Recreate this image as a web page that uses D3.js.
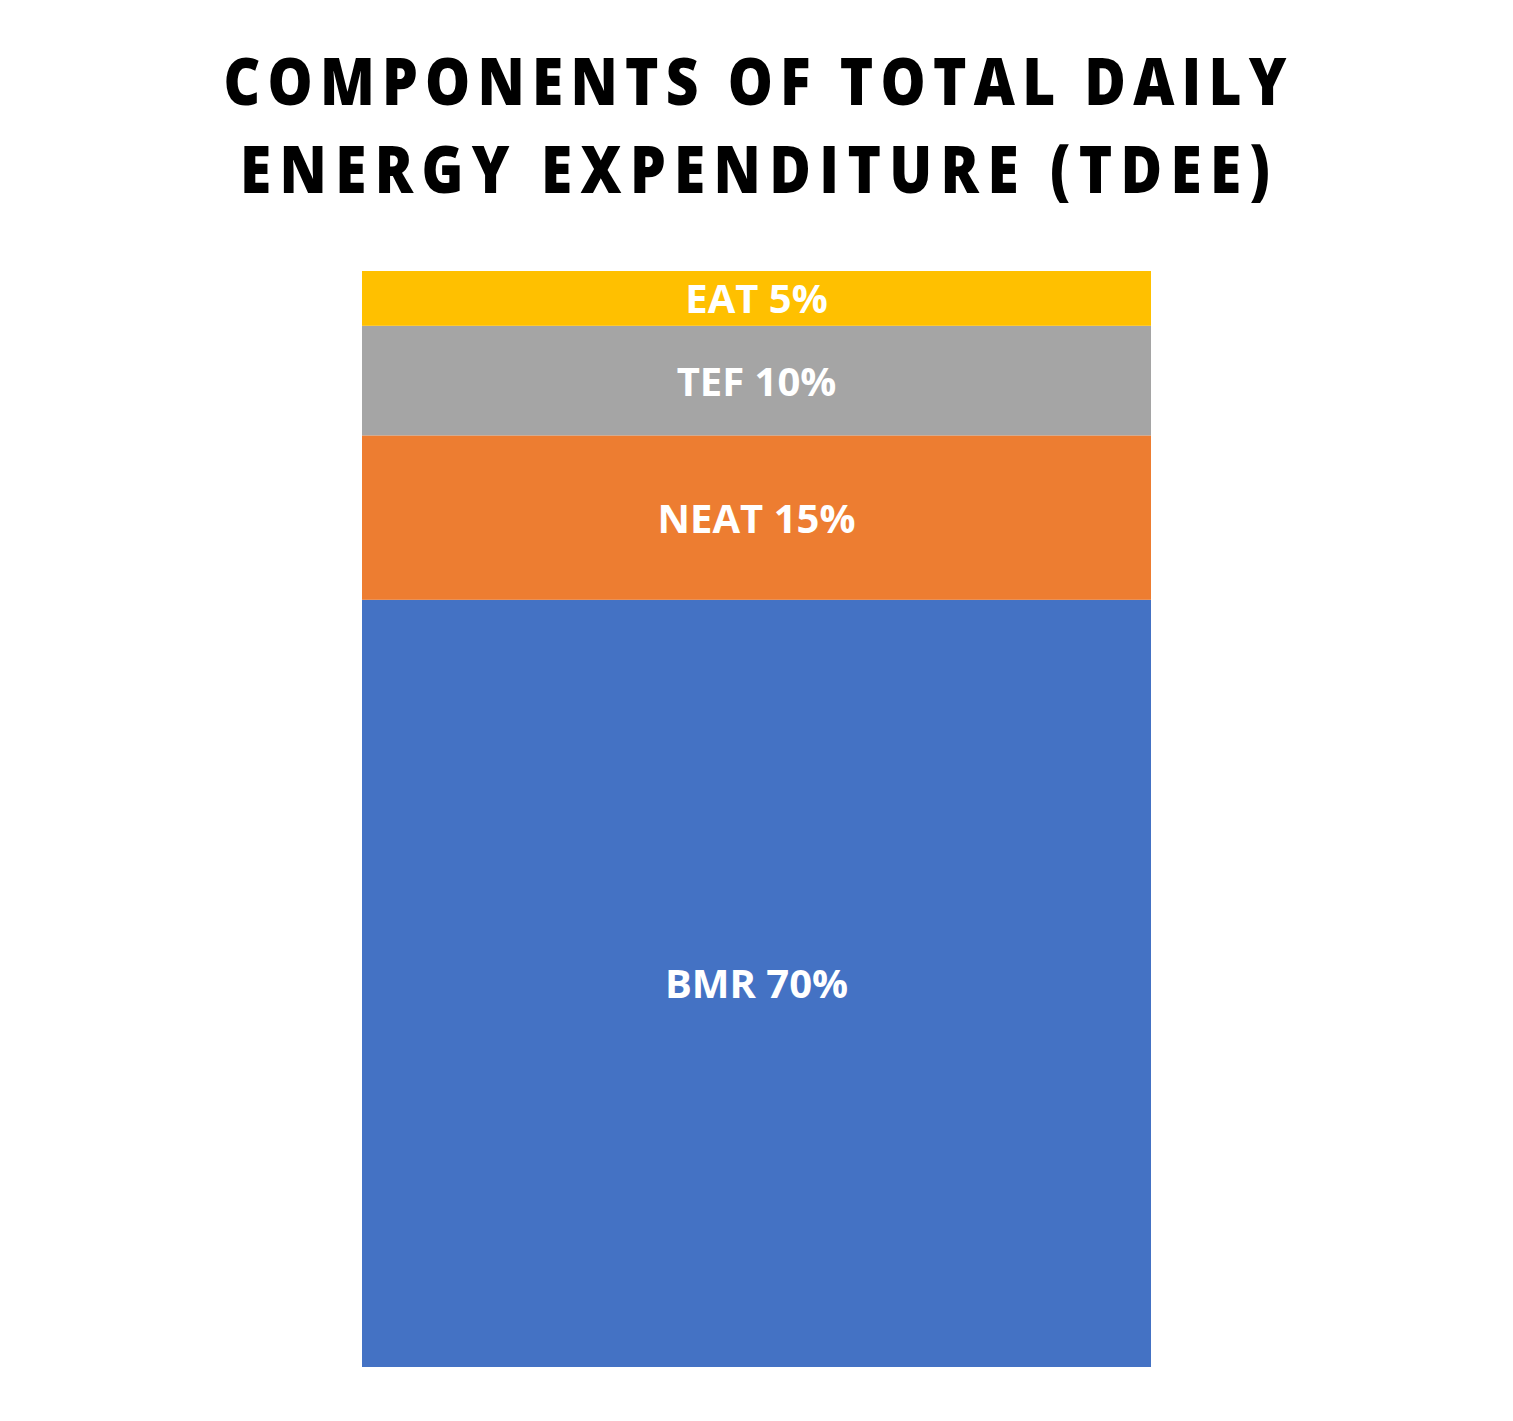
<!DOCTYPE html>
<html>
<head>
<meta charset="utf-8">
<script src="https://cdn.jsdelivr.net/npm/d3@7"></script>
<style>
body { margin: 0; background: #fff; }
svg { display: block; }
</style>
</head>
<body>
<script>
// data
var components = ["BMR", "NEAT", "TEF", "EAT"];
var percents = [70, 15, 10, 5];
var colors = ["#4472C4", "#ED7D31", "#A5A5A5", "#FFC000"];
var titleLines = ["COMPONENTS OF TOTAL DAILY", "ENERGY EXPENDITURE (TDEE)"];

var width = 1513, height = 1421;
var font = "'Open Sans', sans-serif";

var svg = d3.select("body").append("svg").attr("width", width).attr("height", height);

// title (squeezed horizontally a bit to get the narrow, widely spaced look)
var titleWidths = [1063, 1030];
var squeeze = 0.86;
svg.selectAll("text.title")
	.data(titleLines)
	.enter()
	.append("text")
	.attr("class", "title")
	.attr("transform", function(d, i){ return "translate(755," + (105 + i * 88) + ") scale(" + squeeze + ",1)"; })
	.attr("text-anchor", "middle")
	.attr("textLength", function(d, i){ return titleWidths[i] / squeeze; })
	.attr("lengthAdjust", "spacing")
	.style("font-family", font)
	.style("font-weight", "800")
	.style("font-size", "66px")
	.style("fill", "#000")
	.text(function(d){ return d; });

// stack
var rows = [];
var acc = 0;
for (var i = 0; i < components.length; i++) {
	rows.push({ name: components[i], value: percents[i], y0: acc, y1: acc + percents[i], color: colors[i] });
	acc += percents[i];
}

var x = d3.scaleBand().domain(["TDEE"]).range([362, 1151]).padding(0);
var y = d3.scaleLinear().domain([0, 100]).range([1367, 271]);

var segs = svg.selectAll("g.seg")
	.data(rows)
	.enter()
	.append("g")
	.attr("class", "seg");

segs.append("rect")
	.attr("x", x("TDEE"))
	.attr("width", x.bandwidth())
	.attr("y", function(d){ return y(d.y1); })
	.attr("height", function(d){ return y(d.y0) - y(d.y1); })
	.style("fill", function(d){ return d.color; });

segs.append("text")
	.attr("x", x("TDEE") + x.bandwidth() / 2)
	.attr("y", function(d){ return (y(d.y0) + y(d.y1)) / 2 + 15; })
	.attr("text-anchor", "middle")
	.style("font-family", font)
	.style("font-weight", "bold")
	.style("font-size", "40px")
	.style("fill", "#fff")
	.text(function(d){ return d.name + " " + d.value + "%"; });
</script>
</body>
</html>
